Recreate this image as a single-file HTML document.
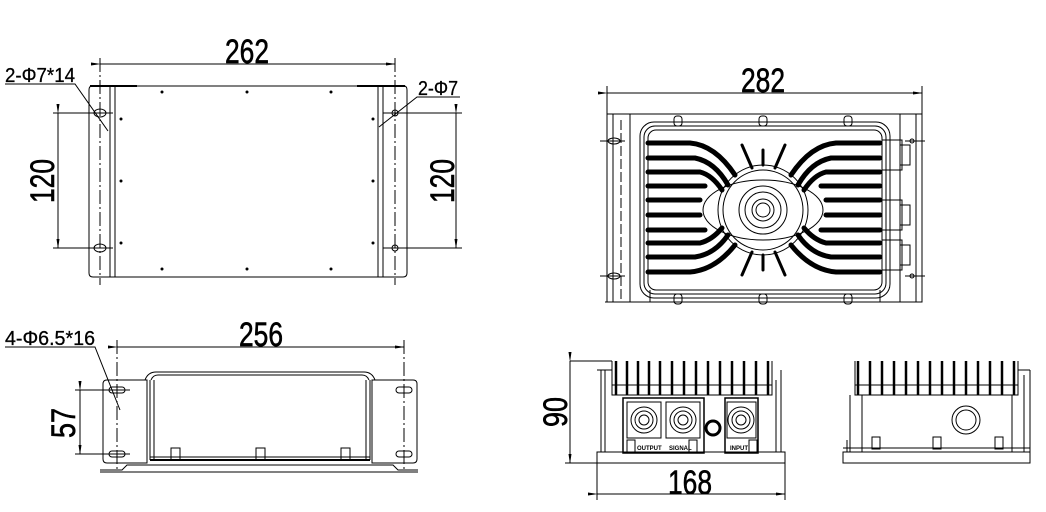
<!DOCTYPE html>
<html><head><meta charset="utf-8"><style>
html,body{margin:0;padding:0;background:#fff;}
svg{display:block}
text{font-family:"Liberation Sans Narrow","Liberation Sans",sans-serif;fill:#000}
</style></head><body>
<svg width="1046" height="512" viewBox="0 0 1046 512" xmlns="http://www.w3.org/2000/svg">
<defs>
<marker id="a" markerWidth="10" markerHeight="6" refX="9" refY="3" orient="auto" markerUnits="userSpaceOnUse"><path d="M0,1.5 L10,3 L0,4.5z" fill="#000"/></marker>
</defs>
<g stroke="#000" fill="none" stroke-width="1">
<!-- ===== TOP LEFT VIEW ===== -->
<path d="M92,86 H404 Q407,86 407,90 V273 Q407,277 403,277 H93 Q89,277 89,273 V90 Q89,86 92,86z"/>
<line x1="90" y1="86" x2="137" y2="86" stroke-width="2"/>
<line x1="357" y1="86" x2="405" y2="86" stroke-width="2"/>
<line x1="110" y1="86" x2="110" y2="277"/><line x1="115" y1="86" x2="115" y2="277"/>
<line x1="378" y1="86" x2="378" y2="277"/><line x1="383" y1="86" x2="383" y2="277"/>
<line x1="100" y1="58" x2="100" y2="285" stroke-dasharray="14,3,2,3"/>
<line x1="395" y1="58" x2="395" y2="285" stroke-dasharray="14,3,2,3"/>
<line x1="100" y1="64" x2="395" y2="64" marker-start="url(#a)" marker-end="url(#a)"/>
<ellipse cx="100" cy="113" rx="6" ry="4"/><ellipse cx="100" cy="248" rx="6" ry="4"/>
<circle cx="395" cy="113" r="3"/><circle cx="395" cy="248" r="3"/>
<line x1="53" y1="113" x2="113" y2="113"/><line x1="53" y1="248" x2="113" y2="248"/>
<line x1="58" y1="113" x2="58" y2="248" marker-start="url(#a)" marker-end="url(#a)"/>
<line x1="383" y1="113" x2="462" y2="113"/><line x1="383" y1="248" x2="462" y2="248"/>
<line x1="456" y1="113" x2="456" y2="248" marker-start="url(#a)" marker-end="url(#a)"/>
<polyline points="5,84 75,84 108,131"/>
<polyline points="460,97 417,97 379,127"/>
<!-- ===== BOTTOM LEFT VIEW ===== -->
<path d="M107,380 H147 V463 H107 Q103,463 103,459 V384 Q103,380 107,380z"/>
<path d="M372,380 H413 Q417,380 417,384 V459 Q417,463 413,463 H372z"/>
<path d="M145,380 Q148,372 156,372 H364 Q372,372 375,380"/>
<path d="M151,380 Q153,375 158,375 H362 Q367,375 369,380"/>
<line x1="150" y1="380" x2="150" y2="460"/><line x1="154" y1="380" x2="154" y2="460"/>
<line x1="366" y1="380" x2="366" y2="460"/><line x1="370" y1="380" x2="370" y2="460"/>
<line x1="150" y1="457" x2="370" y2="457"/><line x1="150" y1="460" x2="370" y2="460" stroke-width="2"/>
<rect x="171" y="448" width="9" height="12"/><rect x="256" y="448" width="9" height="12"/><rect x="341" y="448" width="9" height="12"/>
<path d="M100,470 H122 L127,465 H393 L398,470 H418"/>
<line x1="100" y1="472" x2="418" y2="472"/>
<line x1="117" y1="340" x2="117" y2="470" stroke-dasharray="14,3,2,3"/>
<line x1="404" y1="340" x2="404" y2="470" stroke-dasharray="14,3,2,3"/>
<line x1="117" y1="347" x2="404" y2="347" marker-start="url(#a)" marker-end="url(#a)"/>
<rect x="109" y="387" width="16" height="6" rx="3"/><rect x="109" y="451" width="16" height="6" rx="3"/>
<rect x="396" y="387" width="16" height="6" rx="3"/><rect x="396" y="451" width="16" height="6" rx="3"/>
<line x1="75" y1="390" x2="130" y2="390"/><line x1="75" y1="454" x2="130" y2="454"/>
<line x1="80" y1="390" x2="80" y2="454" marker-start="url(#a)" marker-end="url(#a)"/>
<polyline points="5,347 95,347 120,410"/>
<!-- ===== TOP RIGHT VIEW ===== -->
<rect x="607" y="114" width="315" height="188"/>
<line x1="607" y1="86" x2="607" y2="114"/><line x1="922" y1="86" x2="922" y2="114"/>
<line x1="607" y1="93" x2="922" y2="93" marker-start="url(#a)" marker-end="url(#a)"/>
<line x1="613" y1="114" x2="613" y2="302"/><line x1="630" y1="114" x2="630" y2="302"/>
<line x1="900" y1="114" x2="900" y2="302"/><line x1="916" y1="114" x2="916" y2="302"/>
<line x1="621" y1="120" x2="621" y2="300" stroke-dasharray="10,3"/>
<line x1="600" y1="141" x2="625" y2="141"/><line x1="600" y1="276" x2="625" y2="276"/>
<ellipse cx="614" cy="141" rx="6" ry="3"/><ellipse cx="614" cy="276" rx="6" ry="3"/>
<line x1="905" y1="141" x2="925" y2="141"/><line x1="905" y1="276" x2="925" y2="276"/>
<circle cx="912" cy="141" r="2"/><circle cx="912" cy="276" r="2"/>
<rect x="640" y="122" width="250" height="176" rx="14"/>
<rect x="644" y="126" width="242" height="168" rx="11"/>
<rect x="648" y="130" width="234" height="160" rx="8"/>
<path d="M605,302 H650 V290 M880,290 V302 H922"/>
<rect x="674" y="116" width="8" height="10" rx="3"/><rect x="759" y="116" width="8" height="10" rx="3"/><rect x="844" y="116" width="8" height="10" rx="3"/>
<rect x="674" y="294" width="8" height="10" rx="3"/><rect x="759" y="294" width="8" height="10" rx="3"/><rect x="844" y="294" width="8" height="10" rx="3"/>
<rect x="882" y="140" width="20" height="30"/><rect x="882" y="200" width="20" height="30"/><rect x="882" y="240" width="20" height="30"/>
<rect x="900" y="145" width="10" height="20"/><rect x="900" y="205" width="10" height="20"/><rect x="900" y="245" width="10" height="20"/>
<circle cx="763" cy="210" r="45"/><circle cx="763" cy="210" r="40"/>
<circle cx="763" cy="210" r="24"/><circle cx="763" cy="210" r="18"/><circle cx="763" cy="210" r="11"/><circle cx="763" cy="210" r="7"/>
<ellipse cx="763" cy="210" rx="60" ry="30"/>
</g>
<g stroke="#000" stroke-width="5" fill="none" stroke-linecap="round">
<path d="M648,143 H690 Q715,145 735,175"/>
<path d="M648,158 H695 Q715,162 728,185"/>
<path d="M648,172 H700 Q712,175 722,190"/>
<path d="M648,186 H705"/>
<path d="M648,200 H700"/>
<path d="M648,215 H700"/>
<path d="M648,230 H705"/>
<path d="M648,243 H700 Q712,240 722,228"/>
<path d="M648,257 H695 Q715,254 728,235"/>
<path d="M648,272 H690 Q715,270 735,245"/>
<path d="M880,143 H836 Q811,145 791,175"/>
<path d="M880,158 H831 Q811,162 798,185"/>
<path d="M880,172 H826 Q814,175 804,190"/>
<path d="M880,186 H821"/>
<path d="M880,200 H826"/>
<path d="M880,215 H826"/>
<path d="M880,230 H821"/>
<path d="M880,243 H826 Q814,240 804,228"/>
<path d="M880,257 H831 Q811,254 798,235"/>
<path d="M880,272 H836 Q811,270 791,245"/>
<path d="M742,145 L752,168" stroke-width="3"/><path d="M785,145 L775,168" stroke-width="3"/>
<path d="M742,275 L752,252" stroke-width="3"/><path d="M785,275 L775,252" stroke-width="3"/>
<path d="M763,150 V165" stroke-width="3"/><path d="M763,255 V270" stroke-width="3"/>
</g>
<g stroke="#000" fill="none" stroke-width="1">
<!-- ===== FRONT VIEW ===== -->
<line x1="570" y1="361" x2="612" y2="361"/><line x1="565" y1="463" x2="597" y2="463"/>
<line x1="570" y1="361" x2="570" y2="463" marker-start="url(#a)" marker-end="url(#a)"/>
<line x1="597" y1="463" x2="597" y2="500"/><line x1="785" y1="463" x2="785" y2="500"/>
<line x1="597" y1="494" x2="785" y2="494" marker-start="url(#a)" marker-end="url(#a)"/>
<rect x="597" y="452" width="188" height="11"/>
<line x1="601" y1="370" x2="601" y2="452"/><line x1="605" y1="370" x2="605" y2="452"/>
<line x1="597" y1="370" x2="612" y2="370"/>
<line x1="781" y1="370" x2="781" y2="452"/><line x1="776" y1="380" x2="776" y2="452"/>
<path d="M612,361 V395 H772 V361"/>
<line x1="612" y1="385" x2="772" y2="385"/>
<rect x="623" y="398" width="81" height="55" stroke-width="1.5"/>
<rect x="627" y="402" width="34" height="36"/><rect x="666" y="402" width="34" height="36"/>
<circle cx="644" cy="420" r="13"/><circle cx="644" cy="420" r="9"/><circle cx="644" cy="420" r="5"/>
<circle cx="683" cy="420" r="13"/><circle cx="683" cy="420" r="9"/><circle cx="683" cy="420" r="5"/>
<rect x="725" y="398" width="33" height="55" stroke-width="1.5"/>
<rect x="727" y="402" width="29" height="36"/>
<circle cx="741" cy="420" r="13"/><circle cx="741" cy="420" r="9"/><circle cx="741" cy="420" r="5"/>
<circle cx="713" cy="428" r="7" stroke-width="3"/>
<rect x="627" y="440" width="8" height="12"/><rect x="689" y="440" width="8" height="12"/><rect x="749" y="440" width="8" height="12"/>
<!-- ===== SIDE VIEW ===== -->
<rect x="843" y="452" width="187" height="11"/>
<line x1="843" y1="448" x2="1030" y2="448"/>
<path d="M855,361 V395 H1018 V361"/>
<line x1="855" y1="385" x2="1018" y2="385"/>
<line x1="1018" y1="370" x2="1030" y2="370"/><line x1="1030" y1="370" x2="1030" y2="452"/>
<line x1="1024" y1="375" x2="1024" y2="452"/>
<line x1="847" y1="440" x2="847" y2="452"/><line x1="850" y1="395" x2="850" y2="452"/>
<line x1="862" y1="395" x2="862" y2="452"/><line x1="1012" y1="395" x2="1012" y2="452"/>
<circle cx="966" cy="420" r="14"/><circle cx="966" cy="420" r="10"/>
<rect x="872" y="437" width="8" height="12"/><rect x="933" y="437" width="8" height="12"/><rect x="995" y="437" width="8" height="12"/>
</g>
<!-- fins -->
<g stroke="#000" stroke-width="2.5">
<line x1="616" y1="361" x2="616" y2="395"/><line x1="627" y1="361" x2="627" y2="395"/><line x1="638" y1="361" x2="638" y2="395"/><line x1="649" y1="361" x2="649" y2="395"/><line x1="660" y1="361" x2="660" y2="395"/><line x1="672" y1="361" x2="672" y2="395"/><line x1="684" y1="361" x2="684" y2="395"/><line x1="696" y1="361" x2="696" y2="395"/><line x1="708" y1="361" x2="708" y2="395"/><line x1="720" y1="361" x2="720" y2="395"/><line x1="732" y1="361" x2="732" y2="395"/><line x1="744" y1="361" x2="744" y2="395"/><line x1="756" y1="361" x2="756" y2="395"/><line x1="768" y1="361" x2="768" y2="395"/>
<line x1="858" y1="361" x2="858" y2="395"/><line x1="870" y1="361" x2="870" y2="395"/><line x1="882" y1="361" x2="882" y2="395"/><line x1="894" y1="361" x2="894" y2="395"/><line x1="906" y1="361" x2="906" y2="395"/><line x1="918" y1="361" x2="918" y2="395"/><line x1="930" y1="361" x2="930" y2="395"/><line x1="942" y1="361" x2="942" y2="395"/><line x1="954" y1="361" x2="954" y2="395"/><line x1="966" y1="361" x2="966" y2="395"/><line x1="978" y1="361" x2="978" y2="395"/><line x1="990" y1="361" x2="990" y2="395"/><line x1="1002" y1="361" x2="1002" y2="395"/><line x1="1014" y1="361" x2="1014" y2="395"/>
</g>
<!-- dots -->
<g fill="#000">
<circle cx="162" cy="92" r="1.5"/><circle cx="247" cy="92" r="1.5"/><circle cx="331" cy="92" r="1.5"/>
<circle cx="162" cy="269" r="1.5"/><circle cx="247" cy="269" r="1.5"/><circle cx="331" cy="269" r="1.5"/>
<circle cx="121" cy="119" r="1.5"/><circle cx="121" cy="181" r="1.5"/><circle cx="121" cy="243" r="1.5"/>
<circle cx="373" cy="119" r="1.5"/><circle cx="373" cy="181" r="1.5"/><circle cx="373" cy="243" r="1.5"/>
</g>
<!-- text -->
<g stroke="#000" stroke-width="0.6">
<text x="247" y="63" font-size="34" text-anchor="middle" textLength="44" lengthAdjust="spacingAndGlyphs">262</text>
<text x="763" y="92" font-size="34" text-anchor="middle" textLength="44" lengthAdjust="spacingAndGlyphs">282</text>
<text x="261" y="346" font-size="34" text-anchor="middle" textLength="44" lengthAdjust="spacingAndGlyphs">256</text>
<text x="690" y="494" font-size="34" text-anchor="middle" textLength="44" lengthAdjust="spacingAndGlyphs">168</text>
<text transform="translate(54,181) rotate(-90)" font-size="34" text-anchor="middle" textLength="44" lengthAdjust="spacingAndGlyphs">120</text>
<text transform="translate(454,181) rotate(-90)" font-size="34" text-anchor="middle" textLength="44" lengthAdjust="spacingAndGlyphs">120</text>
<text transform="translate(75,423) rotate(-90)" font-size="34" text-anchor="middle" textLength="30" lengthAdjust="spacingAndGlyphs">57</text>
<text transform="translate(567,412) rotate(-90)" font-size="34" text-anchor="middle" textLength="30" lengthAdjust="spacingAndGlyphs">90</text>
</g>
<g stroke="#000" stroke-width="0.3">
<text x="5" y="82" font-size="20" textLength="70" lengthAdjust="spacingAndGlyphs">2-Φ7*14</text>
<text x="418" y="95" font-size="20" textLength="40" lengthAdjust="spacingAndGlyphs">2-Φ7</text>
<text x="5" y="345" font-size="20" textLength="90" lengthAdjust="spacingAndGlyphs">4-Φ6.5*16</text>
</g>
<text x="637" y="450" font-size="6" font-weight="bold">OUTPUT</text>
<text x="669" y="450" font-size="6" font-weight="bold">SIGNAL</text>
<text x="730" y="450" font-size="6" font-weight="bold">INPUT</text>
</svg>
</body></html>
